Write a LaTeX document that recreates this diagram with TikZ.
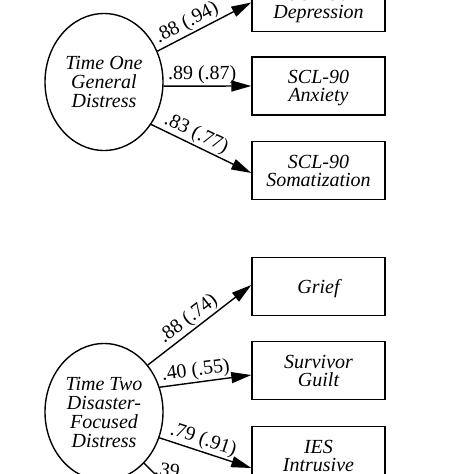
\documentclass[tikz,border=0pt]{standalone}
\usepackage{fontspec}
\setmainfont{Liberation Serif}
\usetikzlibrary{shapes.geometric,arrows.meta}
\begin{document}
\begin{tikzpicture}[x=1pt,y=-1pt,
 latent/.style={draw, ellipse, line width=1.4pt, minimum width=118pt, minimum height=137pt, inner sep=0pt, align=center, font=\fontsize{20}{19}\selectfont\itshape},
 obs/.style={draw, rectangle, line width=1.4pt, minimum width=133pt, minimum height=58pt, inner sep=0pt, align=center, text depth=0pt, font=\fontsize{20}{18}\selectfont\itshape},
 arr/.style={line width=1.4pt, -{Triangle[length=20pt,width=11pt]}},
 lab/.style={font=\fontsize{20}{20}\selectfont, sloped, above, inner sep=1.5pt}
]
\useasboundingbox (0,0) rectangle (474,474);
\clip (0,0) rectangle (474,474);
\fill[white] (0,0) rectangle (474,474);

\node[latent] (t1) at (104,82) {Time One\\General\\Distress};
\node[latent] (t2) at (104,412) {Time Two\\Disaster-\\Focused\\Distress};

\node[obs] (dep) at (318.5,2.5) {SCL-90\\Depression};
\node[obs] (anx) at (318.5,86) {SCL-90\\Anxiety};
\node[obs] (som) at (318.5,170.5) {SCL-90\\Somatization};

\node[obs] (gri) at (318.5,286.5) {Grief};
\node[obs] (gui) at (318.5,370.5) {Survivor\\Guilt};
\node[obs] (ies) at (318.5,455.5) {IES\\Intrusive};

\coordinate (off) at (196,514);

\draw[arr] (t1.30) -- (dep.west) node[lab, pos=0.37] {.88 (.94)};
\draw[arr] (t1.-4) -- (anx.west) node[lab, pos=0.44] {.89 (.87)};
\draw[arr] (t1.-42) -- ([yshift=-2.5pt]som.west) node[lab, pos=0.40] {.83 (.77)};

\draw[arr] (t2.47.5) -- ([yshift=1.5pt]gri.west) node[lab, pos=0.46] {.88 (.74)};
\draw[arr] (t2.24) -- ([yshift=-4.5pt]gui.west) node[lab, pos=0.41] {.40 (.55)};
\draw[arr] (t2.-25.7) -- ([yshift=-12.5pt]ies.west) node[lab, pos=0.44] {.79 (.91)};
\draw[line width=1.4pt] (t2.-52.6) -- (off);
\node[font=\fontsize{20}{20}\selectfont, anchor=north west, inner sep=0pt, rotate=-10] (l39) at (156,461) {.39};
\end{tikzpicture}
\end{document}
